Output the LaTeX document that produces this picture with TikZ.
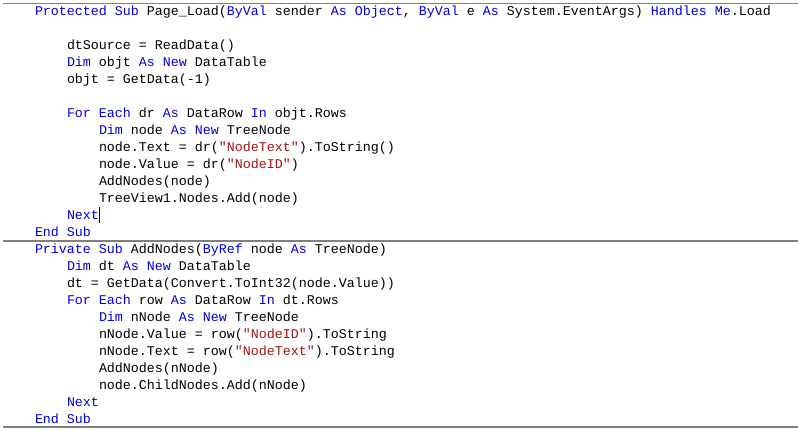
\documentclass[tikz,border=0pt]{standalone}
\usepackage{fontspec}
\setmonofont{Liberation Mono}
\definecolor{kwblue}{RGB}{0,0,220}
\definecolor{strred}{RGB}{163,21,21}
\definecolor{sepgray}{RGB}{128,128,128}
\newcommand{\kwd}[1]{\textcolor{kwblue}{#1}}
\newcommand{\qs}[1]{\textcolor{strred}{"#1"}}
\tikzset{
  codeline/.style={anchor=base west, inner sep=0pt, outer sep=0pt,
    font=\fontsize{13.33}{13.33}\ttfamily, text=black},
  sepline/.style={draw=sepgray, line width=1.6pt},
}
\begin{document}
\begin{tikzpicture}[x=1pt,y=-1pt]
\useasboundingbox[fill=white] (0,0) rectangle (798,431);
% separators
\coordinate (s1a) at (3,3.5); \coordinate (s1b) at (798,3.5);
\coordinate (s2a) at (3,241); \coordinate (s2b) at (798,241);
\coordinate (s3a) at (3,427); \coordinate (s3b) at (798,427);
\draw[sepline] (s1a) -- (s1b);
\draw[sepline] (s2a) -- (s2b);
\draw[sepline] (s3a) -- (s3b);
% first block
\node[codeline] (l1) at (35,15) {\kwd{Protected} \kwd{Sub} Page\_Load(\kwd{ByVal} sender \kwd{As} \kwd{Object}, \kwd{ByVal} e \kwd{As} System.EventArgs) \kwd{Handles} \kwd{Me}.Load};
\node[codeline] (l2) at (67,49) {dtSource = ReadData()};
\node[codeline] (l3) at (67,66) {\kwd{Dim} objt \kwd{As} \kwd{New} DataTable};
\node[codeline] (l4) at (67,83) {objt = GetData(-1)};
\node[codeline] (l5) at (67,117) {\kwd{For} \kwd{Each} dr \kwd{As} DataRow \kwd{In} objt.Rows};
\node[codeline] (l6) at (99,134) {\kwd{Dim} node \kwd{As} \kwd{New} TreeNode};
\node[codeline] (l7) at (99,151) {node.Text = dr(\qs{NodeText}).ToString()};
\node[codeline] (l8) at (99,168) {node.Value = dr(\qs{NodeID})};
\node[codeline] (l9) at (99,185) {AddNodes(node)};
\node[codeline] (l10) at (99,202) {TreeView1.Nodes.Add(node)};
\node[codeline] (l11) at (67,219) {\kwd{Next}};
\node[codeline] (l12) at (35,236) {\kwd{End} \kwd{Sub}};
% cursor
\coordinate (c1) at (99.5,207); \coordinate (c2) at (99.5,223);
\draw[black, line width=1pt] (c1) -- (c2);
% second block
\node[codeline] (m1) at (35,253) {\kwd{Private} \kwd{Sub} AddNodes(\kwd{ByRef} node \kwd{As} TreeNode)};
\node[codeline] (m2) at (67,270) {\kwd{Dim} dt \kwd{As} \kwd{New} DataTable};
\node[codeline] (m3) at (67,287) {dt = GetData(Convert.ToInt32(node.Value))};
\node[codeline] (m4) at (67,304) {\kwd{For} \kwd{Each} row \kwd{As} DataRow \kwd{In} dt.Rows};
\node[codeline] (m5) at (99,321) {\kwd{Dim} nNode \kwd{As} \kwd{New} TreeNode};
\node[codeline] (m6) at (99,338) {nNode.Value = row(\qs{NodeID}).ToString};
\node[codeline] (m7) at (99,355) {nNode.Text = row(\qs{NodeText}).ToString};
\node[codeline] (m8) at (99,372) {AddNodes(nNode)};
\node[codeline] (m9) at (99,389) {node.ChildNodes.Add(nNode)};
\node[codeline] (m10) at (67,406) {\kwd{Next}};
\node[codeline] (m11) at (35,423) {\kwd{End} \kwd{Sub}};
\end{tikzpicture}
\end{document}
